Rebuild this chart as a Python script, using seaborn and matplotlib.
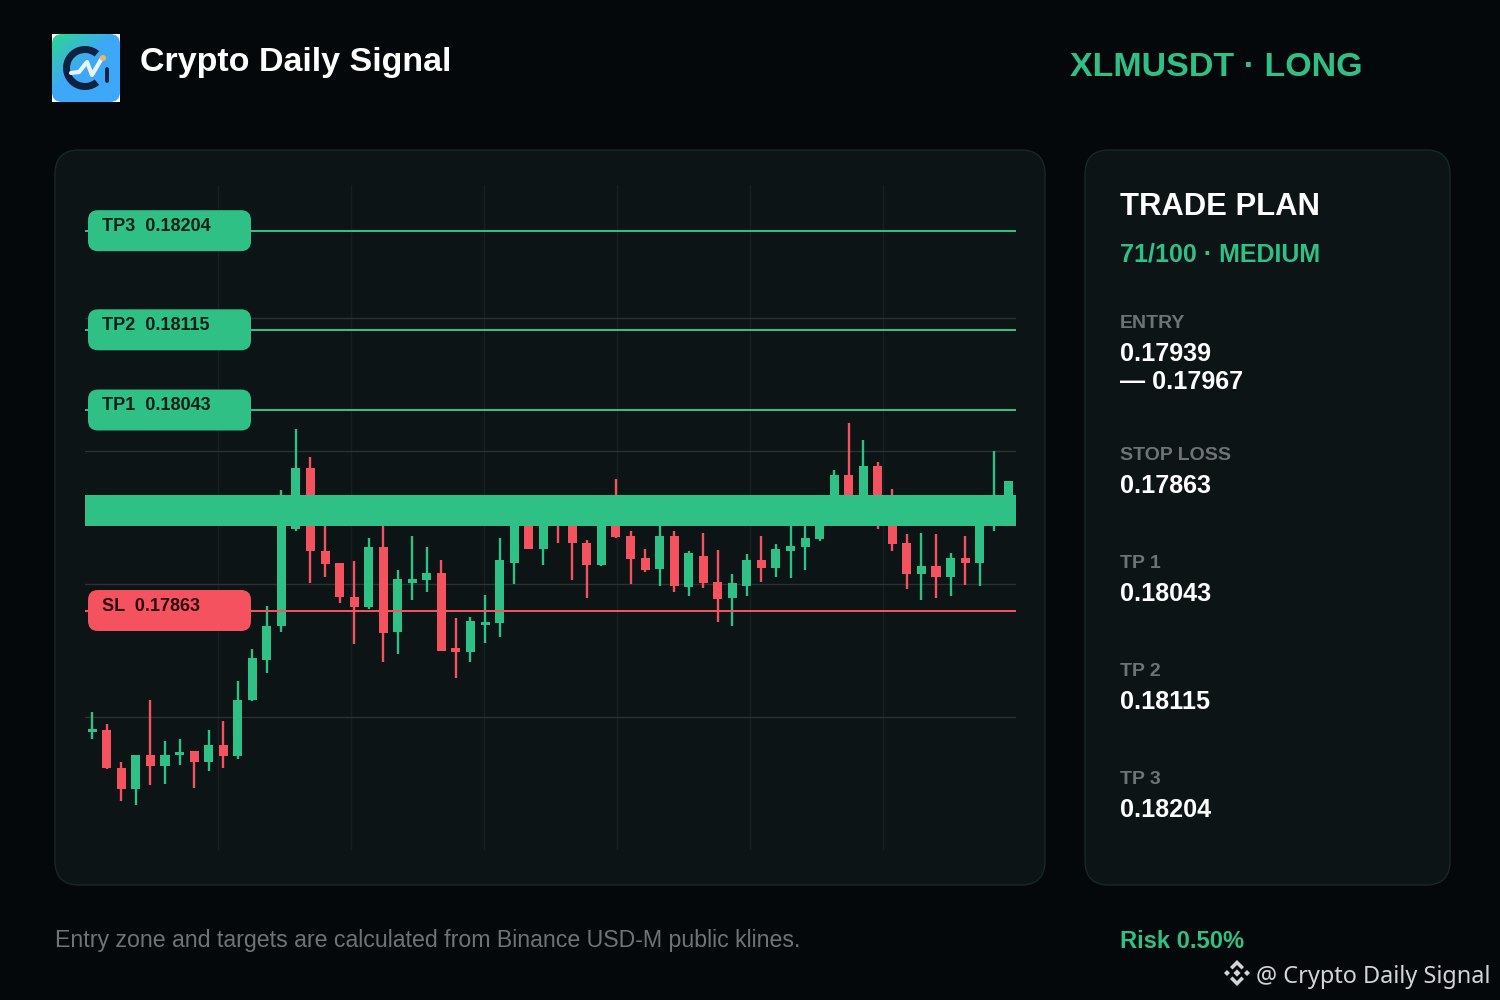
# -*- coding: utf-8 -*-
import numpy as np
import pandas as pd
import matplotlib
matplotlib.use('Agg')
import matplotlib.pyplot as plt
from matplotlib.patches import FancyBboxPatch, Polygon, Rectangle, Wedge, Circle
import seaborn as sns

# klines
opens = [0.17754, 0.17756, 0.17722, 0.17703, 0.17733, 0.17723, 0.17733, 0.17737,
         0.17727, 0.17742, 0.17732, 0.17783, 0.17819, 0.17849, 0.17936, 0.17991,
         0.17916, 0.17906, 0.17875, 0.17866, 0.17920, 0.17844, 0.17888, 0.17890,
         0.17897, 0.17829, 0.17826, 0.17850, 0.17852, 0.17906, 0.17949, 0.17918,
         0.17954, 0.17949, 0.17924, 0.17904, 0.17949, 0.17930, 0.17910, 0.17900,
         0.17930, 0.17884, 0.17912, 0.17889, 0.17874, 0.17885, 0.17908, 0.17901,
         0.17916, 0.17920, 0.17927, 0.17949, 0.17985, 0.17949, 0.17993, 0.17949,
         0.17924, 0.17896, 0.17903, 0.17893, 0.17910, 0.17906, 0.17945, 0.17949]
highs = [0.17772, 0.17761, 0.17727, 0.17733, 0.17783, 0.17746, 0.17748, 0.17737,
         0.17756, 0.17764, 0.17800, 0.17828, 0.17867, 0.17971, 0.18026, 0.18001,
         0.17949, 0.17906, 0.17907, 0.17928, 0.17949, 0.17899, 0.17930, 0.17920,
         0.17908, 0.17856, 0.17857, 0.17877, 0.17928, 0.17949, 0.17949, 0.17949,
         0.17954, 0.17949, 0.17926, 0.17949, 0.17981, 0.17934, 0.17918, 0.17945,
         0.17934, 0.17916, 0.17933, 0.17917, 0.17896, 0.17914, 0.17930, 0.17923,
         0.17945, 0.17945, 0.17949, 0.17989, 0.18031, 0.18016, 0.17996, 0.17972,
         0.17932, 0.17933, 0.17932, 0.17915, 0.17930, 0.17949, 0.18006, 0.17979]
lows = [0.17748, 0.17721, 0.17692, 0.17688, 0.17706, 0.17707, 0.17724, 0.17704,
        0.17719, 0.17722, 0.17730, 0.17782, 0.17807, 0.17844, 0.17934, 0.17888,
        0.17893, 0.17870, 0.17833, 0.17864, 0.17817, 0.17824, 0.17872, 0.17880,
        0.17827, 0.17802, 0.17817, 0.17834, 0.17839, 0.17887, 0.17918, 0.17904,
        0.17924, 0.17890, 0.17874, 0.17903, 0.17928, 0.17887, 0.17898, 0.17885,
        0.17880, 0.17876, 0.17883, 0.17853, 0.17849, 0.17876, 0.17889, 0.17893,
        0.17892, 0.17899, 0.17925, 0.17949, 0.17949, 0.17949, 0.17936, 0.17916,
        0.17882, 0.17872, 0.17874, 0.17876, 0.17886, 0.17885, 0.17934, 0.17949]
closes = [0.17757, 0.17722, 0.17703, 0.17733, 0.17723, 0.17733, 0.17736, 0.17727,
          0.17742, 0.17732, 0.17783, 0.17820, 0.17849, 0.17945, 0.17991, 0.17916,
          0.17905, 0.17875, 0.17866, 0.17920, 0.17843, 0.17891, 0.17891, 0.17897,
          0.17827, 0.17826, 0.17854, 0.17853, 0.17908, 0.17949, 0.17918, 0.17949,
          0.17945, 0.17924, 0.17904, 0.17949, 0.17929, 0.17909, 0.17899, 0.17930,
          0.17885, 0.17915, 0.17888, 0.17873, 0.17888, 0.17908, 0.17901, 0.17918,
          0.17921, 0.17928, 0.17949, 0.17985, 0.17949, 0.17993, 0.17945, 0.17923,
          0.17896, 0.17903, 0.17893, 0.17910, 0.17906, 0.17949, 0.17954, 0.17979]

entry_low = 0.17939
entry_high = 0.17967
stop_loss = 0.17863
tp1 = 0.18043
tp2 = 0.18115
tp3 = 0.18204

level_names = ['TP3', 'TP2', 'TP1', 'SL']
level_prices = [tp3, tp2, tp1, stop_loss]

plan_labels = ['ENTRY', 'STOP LOSS', 'TP 1', 'TP 2', 'TP 3']
plan_values = ['0.17939\n— 0.17967', '0.17863', '0.18043', '0.18115', '0.18204']

BG = '#05080b'
PANEL = '#0c1415'
EDGE = '#1b2625'
GREEN = '#2fc085'
RED = '#f4525f'
GREY = '#6d7473'

sns.set_theme(style='dark')
plt.rcParams['font.family'] = ['Liberation Sans', 'DejaVu Sans']

W, H = 1500, 1000
fig = plt.figure(figsize=(15, 10), dpi=100, facecolor=BG)


def px_axes(zorder):
    a = fig.add_axes([0, 0, 1, 1], zorder=zorder)
    a.set_xlim(0, W)
    a.set_ylim(H, 0)
    a.axis('off')
    a.patch.set_alpha(0)
    return a


def label(a, x, y, s, size, color='white', weight='bold', **kw):
    a.text(x, y, s, fontsize=size * 0.72, color=color, fontweight=weight, va='center', ha='left', **kw)


page = px_axes(0)
top = px_axes(3)

# panels
for x0, x1 in [(55, 1045), (1085, 1450)]:
    page.add_patch(FancyBboxPatch((x0 + 24, 150 + 24), x1 - x0 - 48, 735 - 48,
                                  boxstyle='round,pad=24', fc=PANEL, ec=EDGE, lw=1.0))

# chart
AX_L, AX_R, AX_T, AX_B = 85, 1016, 185, 850
ax = fig.add_axes([AX_L / W, 1 - AX_B / H, (AX_R - AX_L) / W, (AX_B - AX_T) / H], zorder=1)
ax.patch.set_alpha(0)

df = pd.DataFrame({'open': opens, 'high': highs, 'low': lows, 'close': closes})
df['idx'] = df.index
df['color'] = np.where(df['close'] >= df['open'], GREEN, RED)
df['body'] = (df['close'] - df['open']).abs()
df['bottom'] = df[['open', 'close']].min(axis=1)

y_min, y_max = 0.176480, 0.182450
ax.set_xlim(-0.5, len(df) - 0.5)
ax.set_ylim(y_min, y_max)
# only the inner grid lines show
ax.set_xticks(np.linspace(-0.5, len(df) - 0.5, 8)[1:-1])
ax.set_yticks(np.linspace(y_min, y_max, 6)[1:-1])
ax.grid(True, axis='x', color='#172020', lw=1.0)
ax.grid(True, axis='y', color='#2b3232', lw=1.0)
ax.tick_params(length=0, labelbottom=False, labelleft=False)
ax.set_axisbelow(True)
sns.despine(ax=ax, left=True, bottom=True)

ax.vlines(df['idx'], df['low'], df['high'], colors=df['color'], lw=1.7, zorder=3)
ax.bar(df['idx'], df['body'], bottom=df['bottom'], width=0.62, color=df['color'], lw=0, zorder=4)

ax.axhspan(entry_low, entry_high, color=GREEN, lw=0, zorder=5)

for name, price in zip(level_names, level_prices):
    c = RED if name == 'SL' else GREEN
    sns.lineplot(x=[-0.5, len(df) - 0.5], y=[price, price], ax=ax, color=c, lw=1.45, zorder=6, legend=False)
ax.set_xlabel('')
ax.set_ylabel('')
ax.set_xlim(-0.5, len(df) - 0.5)

# level badges
lo, hi = ax.get_ylim()
for name, price in zip(level_names, level_prices):
    y = AX_B - (price - lo) / (hi - lo) * (AX_B - AX_T)
    is_sl = name == 'SL'
    top.add_patch(FancyBboxPatch((88 + 10, y - 20.5 + 10), 163 - 20, 41 - 20, boxstyle='round,pad=10',
                                 fc=RED if is_sl else GREEN, ec='none'))
    txt = f'{name}  {price:.5f}'
    label(top, 102, y - 4.5, txt, 18, color='#2a0a0e' if is_sl else '#0b1f18')

# header
logo = fig.add_axes([52 / W, 1 - 102 / H, 68 / W, 68 / H], zorder=2)
logo.set_xlim(0, 68)
logo.set_ylim(68, 0)
logo.axis('off')
logo.add_patch(Rectangle((0, 0), 68, 68, fc='white', ec='none'))
u, v = np.meshgrid(np.linspace(0, 1, 80), np.linspace(0, 1, 80))
t = np.clip((u * 0.9 + v) / 0.85, 0, 1)
c0, c1 = np.array([0.17, 0.85, 0.55]), np.array([0.24, 0.66, 0.97])
grad = c0 + (c1 - c0) * t[..., None]
im = logo.imshow(grad, extent=(0, 68, 68, 0), aspect='auto', zorder=1)
round_sq = FancyBboxPatch((10, 10), 48, 48, boxstyle='round,pad=10', fc='none', ec='none', transform=logo.transData)
logo.add_patch(round_sq)
im.set_clip_path(round_sq)
logo.add_patch(Wedge((33, 34), 22, 50, 310, width=7, fc='#0e2140', ec='none', zorder=2))
logo.plot([19, 27, 35, 40, 50], [39, 38, 28, 41, 24], color='#e8f4f8', lw=3.0, solid_joinstyle='round', zorder=3)
logo.add_patch(Circle((51, 24), 3, fc='#f2b65c', ec='none', zorder=4))
logo.plot([55, 55], [35, 47], color='#0e2140', lw=2.8, solid_capstyle='round', zorder=3)

label(page, 140, 62, 'Crypto Daily Signal', 34)
label(page, 1070, 67, 'XLMUSDT · LONG', 34, color=GREEN)

# trade plan
label(page, 1120, 207, 'TRADE PLAN', 31)
label(page, 1120, 254, '71/100 · MEDIUM', 25, color=GREEN)
plan_y = [323, 455, 563, 671, 779]
for lab, val, y in zip(plan_labels, plan_values, plan_y):
    label(page, 1120, y, lab, 19.5, color=GREY)
    for i, part in enumerate(val.split('\n')):
        label(page, 1120, y + 31 + i * 28, part, 25.1)

# footer
label(page, 55, 940, 'Entry zone and targets are calculated from Binance USD-M public klines.', 23.15,
      color=GREY, weight='normal')
label(page, 1120, 941, 'Risk 0.50%', 23.7, color=GREEN)
page.text(1256, 977, '@ Crypto Daily Signal', fontsize=16.95, color='#d4d4d4', family='Noto Sans', va='center', ha='left')

# watermark mark
cx, cy = 1237, 973
diamonds = [(-10, 0, 3), (10, 0, 3), (0, 0, 3.6)]
for dx, dy, r in diamonds:
    page.add_patch(Polygon([(cx + dx - r, cy + dy), (cx + dx, cy + dy - r), (cx + dx + r, cy + dy), (cx + dx, cy + dy + r)],
                           fc='#d4d4d4', ec='none'))
for s in (-1, 1):
    page.add_patch(Polygon([(cx - 7, cy + s * 6), (cx, cy + s * 13), (cx + 7, cy + s * 6), (cx + 4.5, cy + s * 3.5),
                            (cx, cy + s * 8), (cx - 4.5, cy + s * 3.5)], fc='#d4d4d4', ec='none'))

fig.savefig('out.png', dpi=100, facecolor=BG)
